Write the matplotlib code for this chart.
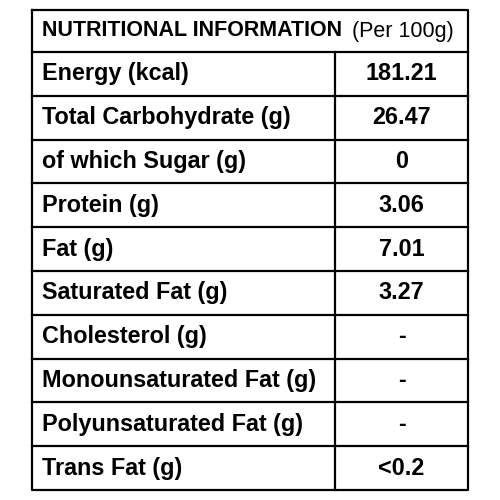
import matplotlib.pyplot as plt

nutrients = ["Energy (kcal)", "Total Carbohydrate (g)", "of which Sugar (g)",
             "Protein (g)", "Fat (g)", "Saturated Fat (g)", "Cholesterol (g)",
             "Monounsaturated Fat (g)", "Polyunsaturated Fat (g)", "Trans Fat (g)"]
values = ["181.21", "26.47", "0", "3.06", "7.01", "3.27", "-", "-", "-", "<0.2"]

plt.rcParams['font.family'] = ['Liberation Sans', 'DejaVu Sans']

fig = plt.figure(figsize=(5, 5), dpi=100)
ax = fig.add_axes([0, 0, 1, 1])
ax.set_xlim(0, 500)
ax.set_ylim(500, 0)
ax.axis('off')

left, right, top, bottom = 32, 468, 10, 490
header_h = 42
row_h = (bottom - top - header_h) / len(nutrients)
split = 335

ax.plot([left, right, right, left, left], [top, top, bottom, bottom, top], color='black', lw=1.6)
ax.plot([left, right], [top + header_h] * 2, color='black', lw=1.6)
for i in range(1, len(nutrients)):
    y = top + header_h + i * row_h
    ax.plot([left, right], [y, y], color='black', lw=1.6)
ax.plot([split, split], [top + header_h, bottom], color='black', lw=1.6)

hy = top + header_h / 2
ax.text(42, hy, "NUTRITIONAL INFORMATION", fontsize=15.5, fontweight='bold',
        va='center', ha='left')
ax.text(352, hy, "(Per 100g)", fontsize=15.5, va='center', ha='left')

for i, (n, v) in enumerate(zip(nutrients, values)):
    y = top + header_h + (i + 0.5) * row_h
    ax.text(42, y, n, fontsize=16.8, fontweight='bold', va='center', ha='left')
    ax.text((split + right) / 2, y, v, fontsize=16.8, fontweight='bold', va='center', ha='center')

fig.savefig('out.png', dpi=100)
